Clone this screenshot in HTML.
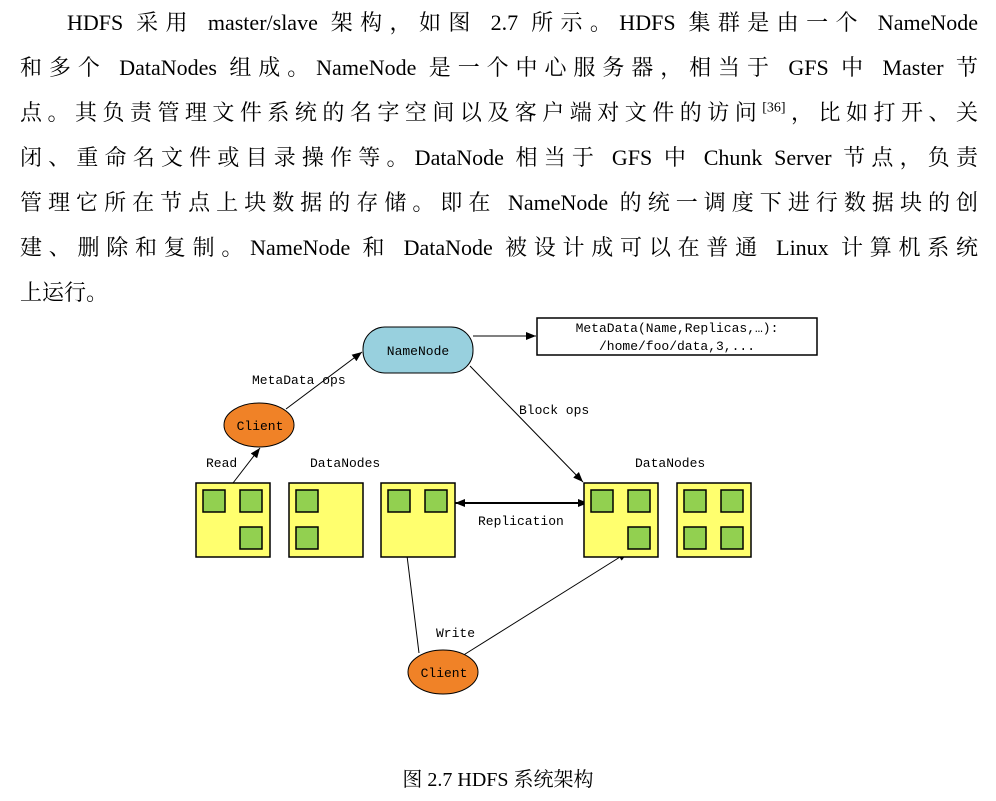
<!DOCTYPE html>
<html><head><meta charset="utf-8"><style>
body{margin:0;background:#fff;width:996px;height:801px;position:relative;overflow:hidden}
.l{position:absolute;left:20px;width:958px;font:22px/28px "Liberation Serif","Noto Serif CJK SC","Noto Sans CJK SC",serif;color:#000;text-align:justify;text-align-last:justify;white-space:nowrap}
.cap{position:absolute;left:0;width:996px;top:766px;text-align:center;font:20px/28px "Liberation Serif","Noto Serif CJK SC",serif}
svg{position:absolute;left:0;top:0}
svg text{font-family:"Liberation Mono","Noto Sans CJK SC",monospace;font-size:13px}
</style></head><body>
<div class="l" style="top:9px;left:67px;width:911px">HDFS 采用 master/slave 架构，如图 2.7 所示。HDFS 集群是由一个 NameNode</div>
<div class="l" style="top:54px">和多个 DataNodes 组成。NameNode 是一个中心服务器，相当于 GFS 中 Master 节</div>
<div class="l" style="top:99px">点。其负责管理文件系统的名字空间以及客户端对文件的访问<sup style="font-size:14px;line-height:0">[36]</sup>，比如打开、关</div>
<div class="l" style="top:144px">闭、重命名文件或目录操作等。DataNode 相当于 GFS 中 Chunk Server 节点，负责</div>
<div class="l" style="top:189px">管理它所在节点上块数据的存储。即在 NameNode 的统一调度下进行数据块的创</div>
<div class="l" style="top:234px">建、删除和复制。NameNode 和 DataNode 被设计成可以在普通 Linux 计算机系统</div>
<div class="l" style="top:279px;text-align-last:left">上运行。</div>
<svg width="996" height="801">
<defs><marker id="a" markerWidth="10" markerHeight="8" refX="10" refY="4" orient="auto" markerUnits="userSpaceOnUse"><path d="M0,0L10,4L0,8z" fill="#000"/></marker>
<marker id="b" markerWidth="10" markerHeight="8" refX="0" refY="4" orient="auto" markerUnits="userSpaceOnUse"><path d="M10,0L0,4L10,8z" fill="#000"/></marker></defs>
<g stroke="#000" fill="none">
<line x1="473" y1="336" x2="536" y2="336" marker-end="url(#a)"/>
<line x1="286" y1="409" x2="362" y2="352" marker-end="url(#a)"/>
<line x1="470" y1="366" x2="583" y2="482" marker-end="url(#a)"/>
<line x1="233" y1="483" x2="260" y2="448" marker-end="url(#a)"/>
<line x1="455" y1="503" x2="588" y2="503" stroke-width="2" marker-start="url(#b)" marker-end="url(#a)"/>
<line x1="419" y1="653" x2="402" y2="515" marker-end="url(#a)"/>
<line x1="462" y1="656" x2="628" y2="552" marker-end="url(#a)"/>
</g>
<rect x="537" y="318" width="280" height="37" fill="#fff" stroke="#000" stroke-width="1.5"/>
<text x="677" y="332" text-anchor="middle">MetaData(Name,Replicas,…):</text>
<text x="677" y="350" text-anchor="middle">/home/foo/data,3,...</text>
<rect x="363" y="327" width="110" height="46" rx="22" fill="#98d0de" stroke="#000"/>
<text x="418" y="355" text-anchor="middle">NameNode</text>
<ellipse cx="259" cy="425" rx="35" ry="22" fill="#f08227" stroke="#000"/>
<text x="260" y="430" text-anchor="middle">Client</text>
<ellipse cx="443" cy="672" rx="35" ry="22" fill="#f08227" stroke="#000"/>
<text x="444" y="677" text-anchor="middle">Client</text>
<text x="252" y="384">MetaData ops</text>
<text x="519" y="414">Block ops</text>
<text x="206" y="467">Read</text>
<text x="310" y="467">DataNodes</text>
<text x="635" y="467">DataNodes</text>
<text x="478" y="525">Replication</text>
<text x="436" y="637">Write</text>
<g stroke="#000" stroke-width="1.5">
<rect x="196" y="483" width="74" height="74" fill="#ffff6e"/>
<rect x="289" y="483" width="74" height="74" fill="#ffff6e"/>
<rect x="381" y="483" width="74" height="74" fill="#ffff6e"/>
<rect x="584" y="483" width="74" height="74" fill="#ffff6e"/>
<rect x="677" y="483" width="74" height="74" fill="#ffff6e"/>
</g>
<g fill="#92d050" stroke="#000" stroke-width="1.5">
<rect x="203" y="490" width="22" height="22"/><rect x="240" y="490" width="22" height="22"/><rect x="240" y="527" width="22" height="22"/>
<rect x="296" y="490" width="22" height="22"/><rect x="296" y="527" width="22" height="22"/>
<rect x="388" y="490" width="22" height="22"/><rect x="425" y="490" width="22" height="22"/>
<rect x="591" y="490" width="22" height="22"/><rect x="628" y="490" width="22" height="22"/><rect x="628" y="527" width="22" height="22"/>
<rect x="684" y="490" width="22" height="22"/><rect x="721" y="490" width="22" height="22"/><rect x="684" y="527" width="22" height="22"/><rect x="721" y="527" width="22" height="22"/>
</g>
</svg>
<div class="cap">图 2.7 HDFS 系统架构</div>
</body></html>
